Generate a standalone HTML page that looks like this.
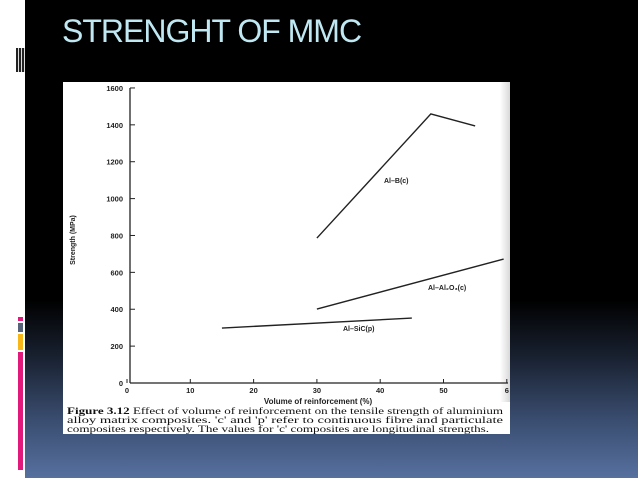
<!DOCTYPE html>
<html><head><meta charset="utf-8"><style>
body{margin:0;width:638px;height:478px;overflow:hidden;position:relative;font-family:"Liberation Sans",sans-serif;}
#bg{position:absolute;left:25px;top:0;width:613px;height:478px;background:linear-gradient(to bottom,#000 0,#000 300px,#1a2333 360px,#3a4d70 420px,#56709f 478px);}
#strip{position:absolute;left:0;top:0;width:25px;height:478px;background:#fff;}
.t{position:absolute;font-family:"Liberation Sans",sans-serif;}
</style></head><body>
<div id="strip"></div>
<div id="bg"></div>
<div style="position:absolute;left:16px;top:48px;width:9px;height:24px;background:repeating-linear-gradient(to right,#222 0 2px,#ddd 2px 3px);"></div>
<div style="position:absolute;left:18px;top:317px;width:5px;height:4px;background:#e0197a;"></div>
<div style="position:absolute;left:18px;top:323px;width:5px;height:9px;background:#56637a;"></div>
<div style="position:absolute;left:18px;top:334px;width:5px;height:16px;background:#f7b718;"></div>
<div style="position:absolute;left:18px;top:352px;width:5px;height:118px;background:#e0197a;"></div>
<div class="t" style="left:62px;top:13px;font-size:32px;color:#bfe8f2;letter-spacing:-1px;">STRENGHT OF MMC</div>
<svg style="position:absolute;left:63px;top:82px" width="447" height="352" viewBox="63 82 447 352">
<defs><linearGradient id="sh" x1="0" x2="1"><stop offset="0" stop-color="#fff"/><stop offset="1" stop-color="#d8d8d8"/></linearGradient></defs>
<rect x="63" y="82" width="447" height="352" fill="#fff"/>
<rect x="500" y="82" width="10" height="320" fill="url(#sh)"/>
<g id="axes" font-family="Liberation Sans" font-weight="bold" font-size="7.5" fill="#222"></g>
<g id="marks"></g>
<text x="75" y="240" transform="rotate(-90 75 240)" text-anchor="middle" font-size="7" font-weight="bold" fill="#222">Strength   (MPa)</text>
<text x="318" y="404" text-anchor="middle" font-size="8" font-weight="bold" fill="#222">Volume of reinforcement    (%)</text>
<g font-family="Liberation Serif" font-size="9" fill="#111">
<text x="67" y="414" textLength="436" lengthAdjust="spacingAndGlyphs"><tspan font-weight="bold">Figure 3.12</tspan>   Effect of volume of reinforcement on the tensile strength of aluminium</text>
<text x="67" y="423" textLength="436" lengthAdjust="spacingAndGlyphs">alloy matrix composites. 'c' and 'p' refer to continuous fibre and particulate</text>
<text x="67" y="432" textLength="422" lengthAdjust="spacingAndGlyphs">composites respectively. The values for 'c' composites are longitudinal strengths.</text>
</g>
</svg>
<script>
const yTicks=[0,200,400,600,800,1000,1200,1400,1600];
const xTicks=[0,10,20,30,40,50,60];
const xTickLabels=["0","10","20","30","40","50","6"];
const alBx=[30,48,55], alBy=[786,1459,1394];
const alOx=[30,59.5], alOy=[401,672];
const sicX=[15,45], sicY=[298,352];
const labels=["Al–B(c)","Al–Al₂O₃(c)","Al–SiC(p)"];
const X=v=>127+v*6.33, Y=v=>383-v*0.1844;
const ns="http://www.w3.org/2000/svg";
const ax=document.getElementById('axes'), mk=document.getElementById('marks');
function el(t,a,p){const e=document.createElementNS(ns,t);for(const k in a)e.setAttribute(k,a[k]);p.appendChild(e);return e;}
let l=el('line',{x1:130,y1:Y(1600),x2:130,y2:383,stroke:'#222','stroke-width':1.3},ax);


l=el('line',{x1:130,y1:383,x2:508,y2:383,stroke:'#222','stroke-width':1.3},ax);


yTicks.forEach(v=>{el('line',{x1:130,x2:135,y1:Y(v),y2:Y(v),stroke:'#222'},ax);
const t=el('text',{x:123,y:Y(v)+3,'text-anchor':'end'},ax);t.textContent=v;

});
xTicks.forEach((v,i)=>{el('line',{x1:X(v),x2:X(v),y1:383,y2:379,stroke:'#222'},ax);
const t=el('text',{x:X(v),y:393,'text-anchor':'middle'},ax);t.textContent=xTickLabels[i];

});
function line(xs,ys,name){const p=el('polyline',{points:xs.map((x,i)=>X(x)+','+Y(ys[i])).join(' '),fill:'none',stroke:'#222','stroke-width':1.4},mk);

}
line(alBx,alBy,'series-al-b');line(alOx,alOy,'series-al-al2o3');line(sicX,sicY,'series-al-sic');
function lab(x,y,txt,name){const t=el('text',{x:x,y:y,'font-size':7,'font-weight':'bold',fill:'#222','font-family':'Liberation Sans'},mk);t.textContent=txt;

}
lab(384,183,labels[0],'label-al-b');lab(428,290,labels[1],'label-al-al2o3');lab(343,331,labels[2],'label-al-sic');
</script>
</body></html>
